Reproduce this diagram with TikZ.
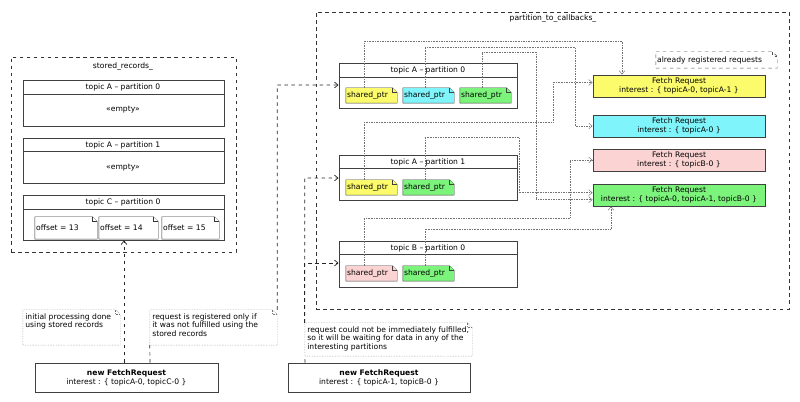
\documentclass[tikz,border=0pt]{standalone}
\usepackage{fontspec}
\setmainfont{DejaVu Sans}
\usetikzlibrary{arrows.meta,fit,calc,positioning}
\definecolor{fryellow}{RGB}{251,251,107}
\definecolor{frcyan}{RGB}{127,245,251}
\definecolor{frpink}{RGB}{252,211,211}
\definecolor{frgreen}{RGB}{124,244,124}
\tikzset{
	box/.style={draw=black!75, thick, inner sep=0pt},
	grp/.style={draw=black!80, dashed, inner sep=0pt},
	txt/.style={font=\fontsize{6.5}{7.6}\selectfont, inner sep=1pt, align=center},
	ntxt/.style={font=\fontsize{6.5}{7.4}\selectfont, inner sep=1pt, align=left, anchor=north west},
	link/.style={draw=black!55, densely dotted, -{Straight Barb[length=3pt,width=5pt]}},
	req/.style={draw=black!85, dashed, semithick, -{Straight Barb[length=3pt,width=5pt]}},
}
% folded corner note around a node
\newcommand{\foldnote}[2]{%
	\draw[#2] (#1.north west) -- ([xshift=-4pt]#1.north east) -- ([yshift=-4pt]#1.north east) -- (#1.south east) -- (#1.south west) -- cycle;
	\draw[#2] ([xshift=-4pt]#1.north east) |- ([yshift=-4pt]#1.north east);
}
\begin{document}
\begin{tikzpicture}[x=0.03cm,y=-0.03cm]
	\useasboundingbox (0,0) rectangle (800,402);
	%
	% stored records
	\node[grp, fit={(11,57) (236,252)}] (stored) {};
	\node[txt] (storedlbl) at (123,67) {stored\_records\_};
	\node[box, fit={(23,80) (224,126)}] (sa0) {};
	\node[box, fit={(23,138) (224,183)}] (sa1) {};
	\node[box, fit={(23,195) (224,240)}] (sc0) {};
	\draw[thick, black!75] (23,94) -- (224,94) (23,151) -- (224,151) (23,209) -- (224,209);
	\node[txt] at (123,87) {topic A -- partition 0};
	\node[txt] at (123,110) {«empty»};
	\node[txt] at (123,145) {topic A -- partition 1};
	\node[txt] at (123,168) {«empty»};
	\node[txt] at (123,202) {topic C -- partition 0};
	\node[fit={(35,217) (97,239)}, inner sep=0pt] (off1) {};
	\node[fit={(99,217) (158,239)}, inner sep=0pt] (off2) {};
	\node[fit={(162,217) (219,239)}, inner sep=0pt] (off3) {};
	\foldnote{off1}{black!80, fill=white}
	\foldnote{off2}{black!80, fill=white}
	\foldnote{off3}{black!80, fill=white}
	\node[txt, anchor=west] at (off1.west) {offset = 13};
	\node[txt, anchor=west] at (off2.west) {offset = 14};
	\node[txt, anchor=west] at (off3.west) {offset = 15};
	%
	% partition to callbacks
	\node[grp, fit={(316,12) (789,309)}] (cb) {};
	\node[txt] (cblbl) at (553,19) {partition\_to\_callbacks\_};
	\node[fit={(656,52) (777,68)}, inner sep=0pt] (already) {};
	\foldnote{already}{black!70, dashed}
	\node[txt, anchor=west] at (already.west) {already registered requests};
	\node[box, fit={(339,63) (517,108)}] (pa0) {};
	\node[box, fit={(339,155) (517,200)}] (pa1) {};
	\node[box, fit={(339,241) (517,287)}] (pb0) {};
	\draw[thick, black!75] (339,77) -- (517,77) (339,168) -- (517,168) (339,254) -- (517,254);
	\node[txt] at (428,70) {topic A -- partition 0};
	\node[txt] at (428,162) {topic A -- partition 1};
	\node[txt] at (428,248) {topic B -- partition 0};
	% shared pointers
	\foreach \n/\xa/\ya/\c in {p1/346/88/fryellow, p2/403/88/frcyan, p3/460/88/frgreen,
		q1/346/180/fryellow, q2/403/180/frgreen,
		r1/346/266/frpink, r2/403/266/frgreen}{
		\node[fit={(\xa,\ya) (\xa+51,\ya+15)}, inner sep=0pt] (\n) {};
		\foldnote{\n}{black!75, fill=\c}
		\node[txt, anchor=west] at (\n.west) {shared\_ptr};
	}
	% fetch requests
	\node[box, fill=fryellow, fit={(593,75) (765,97)}] (fr1) {};
	\node[box, fill=frcyan, fit={(593,115) (765,137)}] (fr2) {};
	\node[box, fill=frpink, fit={(593,149) (765,171)}] (fr3) {};
	\node[box, fill=frgreen, fit={(593,184) (765,206)}] (fr4) {};
	\node[txt] at (fr1) {Fetch Request\\interest : \{ topicA-0, topicA-1 \}};
	\node[txt] at (fr2) {Fetch Request\\interest : \{ topicA-0 \}};
	\node[txt] at (fr3) {Fetch Request\\interest : \{ topicB-0 \}};
	\node[txt] at (fr4) {Fetch Request\\interest : \{ topicA-0, topicA-1, topicB-0 \}};
	% callbacks
	\draw[link] ([xshift=-6pt]p1.north) |- (622,41) -- (fr1.north -| 622,0);
	\draw[link] ([xshift=-3pt]p2.north) |- (575,47) |- (fr2.west);
	\draw[link] ([xshift=-3pt]p3.north) |- (536,52) |- ([yshift=-4pt]fr4.west);
	\draw[link] ([xshift=-6pt]q1.north) |- (553,122) |- ([yshift=3pt]fr1.west);
	\draw[link] ([xshift=-3pt]q2.north) |- (519,137) |- ([yshift=2pt]fr4.west);
	\draw[link] ([xshift=-6pt]r1.north) |- (570,218) |- (fr3.west);
	\draw[link] ([xshift=-3pt]r2.north) |- (611,229) -- (fr4.south -| 611,0);
	%
	% notes
	\node[fit={(23,310) (120,345)}, inner sep=0pt] (note1) {};
	\foldnote{note1}{black!55, densely dotted}
	\node[ntxt] at ([shift={(1pt,-2pt)}]note1.north west) {initial processing done\\using stored records};
	\node[fit={(150,310) (277,345)}, inner sep=0pt] (note2) {};
	\foldnote{note2}{black!55, densely dotted}
	\node[ntxt] at ([shift={(1pt,-2pt)}]note2.north west) {request is registered only if\\it was not fulfilled using the\\stored records};
	\node[fit={(305,323) (472,356)}, inner sep=0pt] (note3) {};
	\foldnote{note3}{black!55, densely dotted}
	\node[ntxt] at ([shift={(1pt,-2pt)}]note3.north west) {request could not be immediately fulfilled,\\so it will be waiting for data in any of the\\interesting partitions};
	%
	% new requests
	\node[box, fill=white, fit={(35,363) (218,392)}] (new1) {};
	\node[txt] at (new1) {\textbf{new FetchRequest}\\interest : \{ topicA-0, topicC-0 \}};
	\node[box, fill=white, fit={(288,363) (470,392)}] (new2) {};
	\node[txt] at (new2) {\textbf{new FetchRequest}\\interest : \{ topicA-1, topicB-0 \}};
	\draw[req] (new1.north -| 124,0) -- (sc0.south -| 124,0);
	\draw[req] (new1.north -| 150,0) -- (note2.south west) (note2.north east) |- (pa0.west |- 0,85);
	\draw[req] (new2.north -| 305,0) -- (note3.south west) (note3.north west) |- (pa1.west |- 0,178);
	\draw[req] (note3.north west) |- (pb0.west |- 0,263);
\end{tikzpicture}
\end{document}
